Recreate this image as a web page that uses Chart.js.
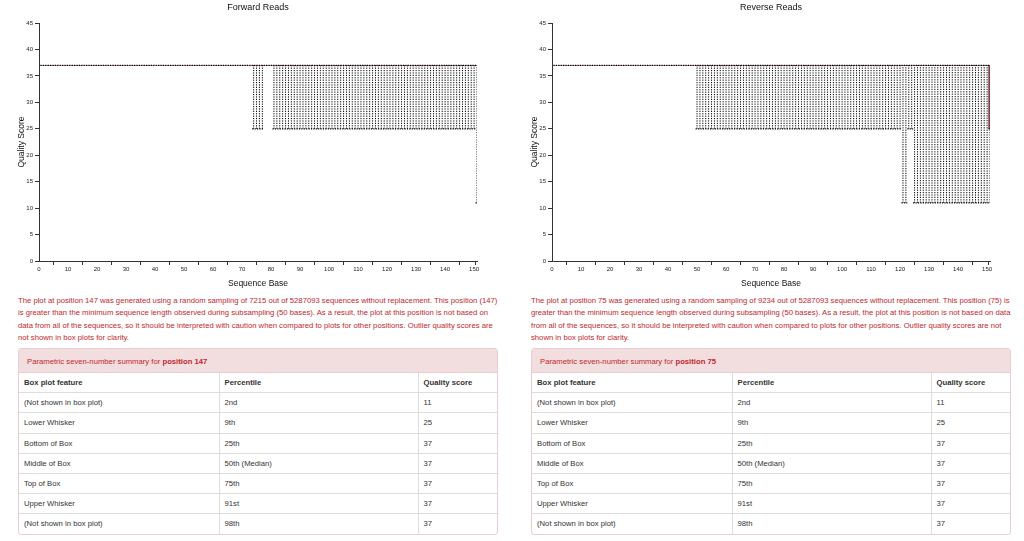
<!DOCTYPE html>
<html lang="en">
<head>
<meta charset="UTF-8">
<title>Forward and Reverse Reads quality</title>
<script src="https://cdn.jsdelivr.net/npm/chart.js"></script>
<style>
  body {
    margin: 0;
    width: 1024px;
    height: 541px;
    background: #fff;
    position: relative;
    overflow: hidden;
    font-family: "Liberation Sans", Arial, Helvetica, sans-serif;
  }
  .plot { position: absolute; top: 0; }
  .note {
    position: absolute;
    top: 295px;
    color: #c0272d;
    font-size: 7.7px;
    line-height: 12.3px;
    white-space: nowrap;
  }
  .panel {
    position: absolute;
    top: 348px;
    width: 478px;
    border: 1px solid #ebccd1;
    border-radius: 3px;
    overflow: hidden;
    font-size: 7.7px;
    color: #333;
  }
  .panel-head {
    background: #f2dede;
    color: #c0272d;
    height: 23px;
    line-height: 25px;
    padding-left: 8px;
    border-bottom: 1px solid #ebccd1;
  }
  table { border-collapse: collapse; table-layout: fixed; width: 100%; }
  td, th {
    height: 19.2px;
    padding: 0 5px;
    text-align: left;
    border: 1px solid #ddd;
    white-space: nowrap;
  }
  th { font-weight: bold; color: #333; }
  tr:first-child th { border-top: none; }
  tr:last-child td { border-bottom: none; }
  td:first-child, th:first-child { border-left: none; }
  td:last-child, th:last-child { border-right: none; }
</style>
</head>
<body>
  <canvas id="forward" class="plot" style="left:0" width="512" height="292"></canvas>
  <canvas id="reverse" class="plot" style="left:512px" width="512" height="292"></canvas>

  <div class="note" style="left:18px">
    The plot at position 147 was generated using a random sampling of 7215 out of 5287093 sequences without replacement. This position (147)<br>
    is greater than the minimum sequence length observed during subsampling (50 bases). As a result, the plot at this position is not based on<br>
    data from all of the sequences, so it should be interpreted with caution when compared to plots for other positions. Outlier quality scores are<br>
    not shown in box plots for clarity.
  </div>
  <div class="note" style="left:531px">
    The plot at position 75 was generated using a random sampling of 9234 out of 5287093 sequences without replacement. This position (75) is<br>
    greater than the minimum sequence length observed during subsampling (50 bases). As a result, the plot at this position is not based on data<br>
    from all of the sequences, so it should be interpreted with caution when compared to plots for other positions. Outlier quality scores are not<br>
    shown in box plots for clarity.
  </div>

  <div class="panel" style="left:18px" id="panel-forward"></div>
  <div class="panel" style="left:531px" id="panel-reverse"></div>

<script>
// sequence positions (x categories)
const positions = [
  1,2,3,4,5,6,7,8,9,10,
  11,12,13,14,15,16,17,18,19,20,
  21,22,23,24,25,26,27,28,29,30,
  31,32,33,34,35,36,37,38,39,40,
  41,42,43,44,45,46,47,48,49,50,
  51,52,53,54,55,56,57,58,59,60,
  61,62,63,64,65,66,67,68,69,70,
  71,72,73,74,75,76,77,78,79,80,
  81,82,83,84,85,86,87,88,89,90,
  91,92,93,94,95,96,97,98,99,100,
  101,102,103,104,105,106,107,108,109,110,
  111,112,113,114,115,116,117,118,119,120,
  121,122,123,124,125,126,127,128,129,130,
  131,132,133,134,135,136,137,138,139,140,
  141,142,143,144,145,146,147,148,149,150,
  151
];

// Forward reads: lower whisker (9th), box bottom (25th), box top (75th), upper whisker (91st)
const forwardLowWhisker = [
  37,37,37,37,37,37,37,37,37,37,
  37,37,37,37,37,37,37,37,37,37,
  37,37,37,37,37,37,37,37,37,37,
  37,37,37,37,37,37,37,37,37,37,
  37,37,37,37,37,37,37,37,37,37,
  37,37,37,37,37,37,37,37,37,37,
  37,37,37,37,37,37,37,37,37,37,
  37,37,37,25,25,25,25,37,37,37,
  25,25,25,25,25,25,25,25,25,25,
  25,25,25,25,25,25,25,25,25,25,
  25,25,25,25,25,25,25,25,25,25,
  25,25,25,25,25,25,25,25,25,25,
  25,25,25,25,25,25,25,25,25,25,
  25,25,25,25,25,25,25,25,25,25,
  25,25,25,25,25,25,25,25,25,25,
  11
];
const forwardBoxLow = [
  37,37,37,37,37,37,37,37,37,37,
  37,37,37,37,37,37,37,37,37,37,
  37,37,37,37,37,37,37,37,37,37,
  37,37,37,37,37,37,37,37,37,37,
  37,37,37,37,37,37,37,37,37,37,
  37,37,37,37,37,37,37,37,37,37,
  37,37,37,37,37,37,37,37,37,37,
  37,37,37,37,37,37,37,37,37,37,
  37,37,37,37,37,37,37,37,37,37,
  37,37,37,37,37,37,37,37,37,37,
  37,37,37,37,37,37,37,37,37,37,
  37,37,37,37,37,37,37,37,37,37,
  37,37,37,37,37,37,37,37,37,37,
  37,37,37,37,37,37,37,37,37,37,
  37,37,37,37,37,37,37,37,37,37,
  37
];
const forwardBoxHigh = [
  37,37,37,37,37,37,37,37,37,37,
  37,37,37,37,37,37,37,37,37,37,
  37,37,37,37,37,37,37,37,37,37,
  37,37,37,37,37,37,37,37,37,37,
  37,37,37,37,37,37,37,37,37,37,
  37,37,37,37,37,37,37,37,37,37,
  37,37,37,37,37,37,37,37,37,37,
  37,37,37,37,37,37,37,37,37,37,
  37,37,37,37,37,37,37,37,37,37,
  37,37,37,37,37,37,37,37,37,37,
  37,37,37,37,37,37,37,37,37,37,
  37,37,37,37,37,37,37,37,37,37,
  37,37,37,37,37,37,37,37,37,37,
  37,37,37,37,37,37,37,37,37,37,
  37,37,37,37,37,37,37,37,37,37,
  37
];
const forwardHighWhisker = [
  37,37,37,37,37,37,37,37,37,37,
  37,37,37,37,37,37,37,37,37,37,
  37,37,37,37,37,37,37,37,37,37,
  37,37,37,37,37,37,37,37,37,37,
  37,37,37,37,37,37,37,37,37,37,
  37,37,37,37,37,37,37,37,37,37,
  37,37,37,37,37,37,37,37,37,37,
  37,37,37,37,37,37,37,37,37,37,
  37,37,37,37,37,37,37,37,37,37,
  37,37,37,37,37,37,37,37,37,37,
  37,37,37,37,37,37,37,37,37,37,
  37,37,37,37,37,37,37,37,37,37,
  37,37,37,37,37,37,37,37,37,37,
  37,37,37,37,37,37,37,37,37,37,
  37,37,37,37,37,37,37,37,37,37,
  37
];

// Reverse reads
const reverseLowWhisker = [
  37,37,37,37,37,37,37,37,37,37,
  37,37,37,37,37,37,37,37,37,37,
  37,37,37,37,37,37,37,37,37,37,
  37,37,37,37,37,37,37,37,37,37,
  37,37,37,37,37,37,37,37,37,25,
  25,25,25,25,25,25,25,25,25,25,
  25,25,25,25,25,25,25,25,25,25,
  25,25,25,25,25,25,25,25,25,25,
  25,25,25,25,25,25,25,25,25,25,
  25,25,25,25,25,25,25,25,25,25,
  25,25,25,25,25,25,25,25,25,25,
  25,25,25,25,25,25,25,25,25,25,
  11,11,25,25,11,11,11,11,11,11,
  11,11,11,11,11,11,11,11,11,11,
  11,11,11,11,11,11,11,11,11,11,
  11
];
const reverseBoxLow = [
  37,37,37,37,37,37,37,37,37,37,
  37,37,37,37,37,37,37,37,37,37,
  37,37,37,37,37,37,37,37,37,37,
  37,37,37,37,37,37,37,37,37,37,
  37,37,37,37,37,37,37,37,37,37,
  37,37,37,37,37,37,37,37,37,37,
  37,37,37,37,37,37,37,37,37,37,
  37,37,37,37,37,37,37,37,37,37,
  37,37,37,37,37,37,37,37,37,37,
  37,37,37,37,37,37,37,37,37,37,
  37,37,37,37,37,37,37,37,37,37,
  37,37,37,37,37,37,37,37,37,37,
  37,37,37,37,37,37,37,37,37,37,
  37,37,37,37,37,37,37,37,37,37,
  37,37,37,37,37,37,37,37,37,37,
  25
];
const reverseBoxHigh = forwardBoxHigh.slice();
const reverseHighWhisker = forwardHighWhisker.slice();

// axis ticks
const xTickValues = [0,10,20,30,40,50,60,70,80,90,100,110,120,130,140,150,151];
const xTickLabels = ['0','10','20','30','40','50','60','70','80','90','100','110','120','130','140','150',''];
const yTickValues = [0,5,10,15,20,25,30,35,40,45];

// seven-number summary tables
const summaryFeatures = ['(Not shown in box plot)','Lower Whisker','Bottom of Box','Middle of Box','Top of Box','Upper Whisker','(Not shown in box plot)'];
const summaryPercentiles = ['2nd','9th','25th','50th (Median)','75th','91st','98th'];
const forwardSummaryScores = [11,25,37,37,37,37,37];
const reverseSummaryScores = [11,25,37,37,37,37,37];

function buildPanel(el, position, scores) {
  let html = '<div class="panel-head">Parametric seven-number summary for <b>position ' + position + '</b></div>';
  html += '<table><colgroup><col style="width:200px"><col style="width:199px"><col></colgroup>';
  html += '<tr><th>Box plot feature</th><th>Percentile</th><th>Quality score</th></tr>';
  summaryFeatures.forEach((f, i) => {
    html += '<tr><td>' + f + '</td><td>' + summaryPercentiles[i] + '</td><td>' + scores[i] + '</td></tr>';
  });
  html += '</table>';
  el.innerHTML = html;
}
buildPanel(document.getElementById('panel-forward'), 147, forwardSummaryScores);
buildPanel(document.getElementById('panel-reverse'), 75, reverseSummaryScores);

Chart.defaults.font.family = '"Liberation Sans", Arial, Helvetica, sans-serif';

// horizontal pieces one position wide; neighbours with the same value are joined
// into one path so the dots stay evenly spaced
function hSegments(values, keep) {
  const pts = [];
  let prev = -1;
  positions.forEach((p, i) => {
    if (!keep(i)) return;
    if (prev === i - 1 && values[prev] === values[i]) {
      pts.push({x: p + 0.5, y: values[i]});
    } else {
      if (pts.length) pts.push({x: p - 0.5, y: null});
      pts.push({x: p - 0.5, y: values[i]}, {x: p + 0.5, y: values[i]});
    }
    prev = i;
  });
  return pts;
}
// vertical whisker lines
function vSegments(low, high) {
  const pts = [];
  positions.forEach((p, i) => {
    if (low[i] === high[i]) return;
    pts.push({x: p, y: low[i]}, {x: p, y: high[i]}, {x: p, y: null});
  });
  return pts;
}

function dotted(data, width) {
  return {
    type: 'scatter',
    data: data,
    showLine: true,
    spanGaps: false,
    borderColor: '#000',
    borderWidth: width,
    borderDash: [1.2, 1.2],
    pointRadius: 0,
    order: 0
  };
}

function makeChart(id, title, low, q1, q3, high, leftPad, axisWidth, rightWidth, yTitlePad) {
  const ctx = document.getElementById(id).getContext('2d');
  return new Chart(ctx, {
    type: 'scatter',
    data: {
      datasets: [
        {
          type: 'bar',
          data: positions.map((p, i) => ({x: p, y: [q1[i], q3[i]]})),
          backgroundColor: '#9b5d60',
          borderWidth: 0,
          barThickness: 3,
          order: 1
        },
        dotted(vSegments(low, high), 1),
        dotted(hSegments(q3, i => true), 1.3),
        dotted(hSegments(q1, i => q1[i] !== q3[i]), 1.3),
        dotted(hSegments(low, i => low[i] !== q1[i]), 1.3),
        dotted(hSegments(high, i => high[i] !== q3[i]), 1.3)
      ]
    },
    options: {
      responsive: false,
      devicePixelRatio: 1,
      animation: false,
      layout: { padding: { left: leftPad, right: 0, top: 0, bottom: 0 } },
      plugins: {
        legend: { display: false },
        tooltip: { enabled: false },
        title: {
          display: true,
          text: title,
          color: '#111',
          font: { size: 9, weight: 'normal' },
          padding: { top: 2.6, bottom: 9.6 }
        }
      },
      scales: {
        x: {
          type: 'linear',
          min: 0,
          max: 151,
          offset: false,
          afterBuildTicks: axis => { axis.ticks = xTickValues.map(v => ({value: v})); },
          afterFit: axis => { axis.height = 31; },
          ticks: {
            autoSkip: false,
            maxRotation: 0,
            padding: 1,
            color: '#222',
            font: { size: 6 },
            callback: (v, i) => xTickLabels[i]
          },
          grid: { drawOnChartArea: false, drawTicks: true, tickLength: 4, color: '#333' },
          border: { color: '#333' },
          title: {
            display: true,
            text: 'Sequence Base',
            color: '#111',
            font: { size: 8.5 },
            padding: { top: 0, bottom: 2.9 }
          }
        },
        y: {
          type: 'linear',
          min: 0,
          max: 45,
          afterBuildTicks: axis => { axis.ticks = yTickValues.map(v => ({value: v})); },
          afterFit: axis => { axis.width = axisWidth; },
          ticks: {
            padding: 2,
            color: '#222',
            font: { size: 6 }
          },
          grid: { drawOnChartArea: false, drawTicks: true, tickLength: 4, color: '#333' },
          border: { color: '#333' },
          title: {
            display: true,
            text: 'Quality Score',
            color: '#111',
            font: { size: 8.5 },
            padding: { top: yTitlePad, bottom: 0 }
          }
        },
        // empty right-hand margin so the title stays centred over the plot
        yr: {
          type: 'linear',
          position: 'right',
          display: true,
          afterFit: axis => { axis.width = rightWidth; },
          ticks: { display: false },
          grid: { display: false, drawTicks: false },
          border: { display: false }
        }
      }
    }
  });
}

makeChart('forward', 'Forward Reads', forwardLowWhisker, forwardBoxLow, forwardBoxHigh, forwardHighWhisker, 4, 35, 35, 12.9);
makeChart('reverse', 'Reverse Reads', reverseLowWhisker, reverseBoxLow, reverseBoxHigh, reverseHighWhisker, 6, 34, 34, 11.9);
</script>
</body>
</html>
